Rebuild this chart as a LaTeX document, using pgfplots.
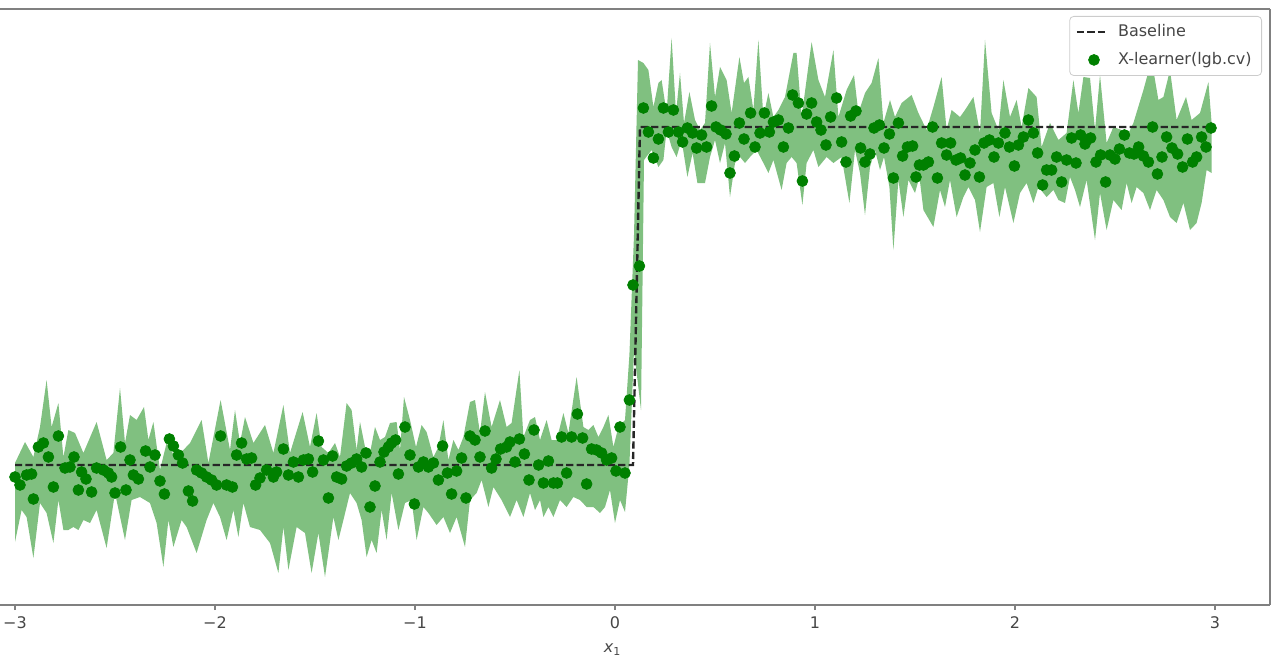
\documentclass[border=0pt]{standalone}
\usepackage{pgfplots}
\pgfplotsset{compat=1.18}
\usepackage{pgfplotstable}
\usepgfplotslibrary{fillbetween}
\usepackage{fontspec}
\setmainfont{DejaVu Sans}
\definecolor{dotgreen}{RGB}{0,128,0}
\definecolor{bandgreen}{RGB}{128,192,128}
\definecolor{spine}{RGB}{128,128,128}
\definecolor{ticktext}{RGB}{70,70,70}
\pgfplotsset{shortline/.style={legend image code/.code={\draw[##1] (0pt,0pt) -- (15pt,0pt);}}}
\begin{document}
\pgfplotstableread{
x y
-3.000 142
-2.950 163
-2.908 148
-2.875 178
-2.842 225
-2.817 178
-2.783 202
-2.758 148
-2.733 175
-2.700 172
-2.658 152
-2.592 183
-2.542 145
-2.508 152
-2.475 217
-2.450 162
-2.425 190
-2.392 185
-2.355 198
-2.333 165
-2.308 183
-2.275 135
-2.242 162
-2.200 148
-2.158 155
-2.125 162
-2.067 185
-2.033 142
-1.972 205
-1.925 155
-1.900 195
-1.875 162
-1.850 188
-1.808 162
-1.750 180
-1.708 152
-1.658 200
-1.625 152
-1.562 193
-1.525 158
-1.492 192
-1.467 158
-1.433 152
-1.400 162
-1.375 148
-1.342 202
-1.317 195
-1.292 155
-1.275 183
-1.250 158
-1.225 152
-1.200 178
-1.175 165
-1.150 168
-1.125 182
-1.092 183
-1.075 155
-1.055 208
-1.025 185
-0.995 158
-0.967 180
-0.942 173
-0.908 148
-0.883 158
-0.858 185
-0.833 145
-0.808 165
-0.783 155
-0.758 168
-0.725 203
-0.700 205
-0.675 172
-0.650 213
-0.617 178
-0.575 205
-0.542 178
-0.517 182
-0.478 235
-0.458 168
-0.425 185
-0.400 188
-0.375 165
-0.342 185
-0.317 165
-0.292 165
-0.258 192
-0.233 172
-0.192 228
-0.158 178
-0.133 175
-0.108 180
-0.083 168
-0.058 178
-0.033 190
-0.008 158
0.017 178
0.050 185
0.072 250
0.095 370
0.115 545
0.142 542
0.167 535
0.192 498
0.217 522
0.233 525
0.258 492
0.283 567
0.305 492
0.325 532
0.345 482
0.372 513
0.400 485
0.425 475
0.450 482
0.475 562
0.500 508
0.525 538
0.558 525
0.583 492
0.622 548
0.645 522
0.667 528
0.692 495
0.717 565
0.742 488
0.767 512
0.792 488
0.817 495
0.850 508
0.892 552
0.908 552
0.933 488
0.983 563
1.017 525
1.050 508
1.092 555
1.117 488
1.158 515
1.195 530
1.217 492
1.250 512
1.283 522
1.317 547
1.342 482
1.375 505
1.400 488
1.433 502
1.483 510
1.517 492
1.558 475
1.592 498
1.633 528
1.658 475
1.683 495
1.725 488
1.750 495
1.792 508
1.825 472
1.850 565
1.883 492
1.917 475
1.942 525
1.975 488
2.008 505
2.033 478
2.067 517
2.108 508
2.133 458
2.175 482
2.217 465
2.258 472
2.292 525
2.317 492
2.342 528
2.375 527
2.400 475
2.425 530
2.458 462
2.492 478
2.533 475
2.558 468
2.592 482
2.642 515
2.683 545
2.717 505
2.742 508
2.775 535
2.808 485
2.855 508
2.883 485
2.925 492
2.967 523
2.983 482
}\upperband
\pgfplotstableread{
x y
-3.000 63
-2.967 95
-2.942 88
-2.908 47
-2.875 102
-2.842 92
-2.808 62
-2.783 105
-2.758 75
-2.733 75
-2.708 78
-2.683 75
-2.658 85
-2.625 82
-2.592 95
-2.542 57
-2.500 112
-2.450 65
-2.417 105
-2.375 108
-2.325 102
-2.292 82
-2.258 38
-2.233 85
-2.208 58
-2.167 85
-2.142 78
-2.092 52
-2.042 85
-2.008 102
-1.975 88
-1.942 65
-1.908 95
-1.883 68
-1.858 102
-1.825 78
-1.775 75
-1.725 62
-1.683 32
-1.658 78
-1.633 35
-1.592 78
-1.550 72
-1.517 32
-1.483 72
-1.450 28
-1.408 88
-1.383 65
-1.358 85
-1.325 112
-1.292 102
-1.267 85
-1.242 48
-1.217 65
-1.192 52
-1.167 95
-1.142 65
-1.117 112
-1.083 75
-1.050 102
-1.017 105
-0.992 65
-0.958 98
-0.933 92
-0.892 80
-0.858 88
-0.825 72
-0.792 88
-0.750 58
-0.725 105
-0.692 112
-0.667 125
-0.633 98
-0.608 118
-0.567 105
-0.525 88
-0.492 105
-0.458 88
-0.425 112
-0.400 95
-0.375 105
-0.358 88
-0.333 98
-0.308 88
-0.275 105
-0.242 98
-0.208 108
-0.175 105
-0.142 98
-0.108 98
-0.075 92
-0.050 98
-0.025 115
0.000 82
0.025 105
0.050 93
0.072 140
0.095 255
0.130 195
0.145 445
0.183 455
0.217 438
0.242 445
0.258 475
0.283 458
0.308 448
0.333 465
0.362 428
0.388 452
0.412 422
0.450 422
0.475 448
0.500 465
0.525 442
0.550 462
0.575 408
0.600 442
0.625 448
0.650 442
0.675 448
0.708 455
0.742 442
0.767 432
0.792 445
0.833 415
0.858 442
0.883 448
0.908 442
0.937 400
0.958 442
0.992 455
1.017 438
1.058 448
1.092 442
1.133 448
1.172 402
1.200 455
1.225 432
1.250 390
1.275 438
1.300 455
1.325 435
1.345 448
1.372 418
1.392 355
1.417 425
1.442 388
1.467 425
1.500 412
1.522 428
1.542 395
1.592 378
1.625 415
1.650 398
1.675 425
1.708 388
1.742 408
1.767 418
1.800 405
1.825 373
1.858 418
1.892 422
1.922 388
1.950 418
1.992 382
2.025 412
2.058 422
2.092 402
2.117 418
2.158 408
2.192 415
2.217 405
2.250 402
2.275 428
2.300 415
2.325 398
2.358 425
2.400 365
2.425 412
2.458 375
2.492 405
2.533 395
2.558 422
2.583 402
2.608 418
2.642 412
2.675 395
2.708 415
2.742 405
2.775 388
2.808 382
2.842 402
2.875 375
2.908 382
2.933 402
2.958 435
2.983 432
}\lowerband
\pgfplotstableread{
x y
-3.000 128
-2.975 120
-2.942 130
-2.917 131
-2.908 106
-2.883 158
-2.858 162
-2.833 148
-2.808 118
-2.783 169
-2.750 137
-2.725 138
-2.705 148
-2.683 115
-2.667 133
-2.645 126
-2.617 113
-2.592 137
-2.558 135
-2.533 132
-2.517 128
-2.500 112
-2.472 158
-2.445 115
-2.425 145
-2.408 130
-2.383 126
-2.347 154
-2.325 138
-2.300 150
-2.275 124
-2.253 111
-2.228 166
-2.208 159
-2.183 150
-2.162 142
-2.133 114
-2.112 104
-2.092 135
-2.067 132
-2.042 128
-2.017 125
-1.992 120
-1.972 169
-1.942 120
-1.913 118
-1.892 150
-1.867 162
-1.842 146
-1.817 147
-1.797 120
-1.775 127
-1.742 135
-1.708 128
-1.692 133
-1.658 156
-1.633 130
-1.608 143
-1.583 128
-1.558 145
-1.533 146
-1.512 133
-1.483 164
-1.458 145
-1.433 107
-1.412 149
-1.392 128
-1.367 126
-1.342 139
-1.317 142
-1.292 146
-1.267 138
-1.245 152
-1.225 98
-1.200 119
-1.175 143
-1.155 153
-1.133 158
-1.117 162
-1.097 165
-1.083 131
-1.050 178
-1.025 150
-1.003 101
-0.983 138
-0.958 143
-0.933 138
-0.908 142
-0.883 125
-0.862 159
-0.838 132
-0.817 111
-0.792 134
-0.767 147
-0.745 107
-0.725 169
-0.700 165
-0.675 148
-0.650 174
-0.617 137
-0.595 146
-0.572 156
-0.542 158
-0.525 163
-0.500 143
-0.478 166
-0.453 151
-0.430 125
-0.405 175
-0.382 140
-0.358 122
-0.333 144
-0.308 122
-0.288 122
-0.267 168
-0.242 132
-0.217 168
-0.188 191
-0.162 167
-0.142 121
-0.117 156
-0.092 155
-0.067 152
-0.042 145
-0.017 147
0.005 134
0.025 178
0.050 132
0.072 205
0.090 320
0.122 339
0.142 497
0.167 473
0.192 447
0.217 466
0.242 497
0.267 473
0.292 495
0.317 473
0.338 463
0.362 477
0.388 472
0.408 457
0.433 470
0.458 458
0.483 499
0.505 478
0.528 475
0.555 471
0.575 432
0.597 449
0.622 482
0.645 466
0.678 492
0.700 458
0.725 472
0.747 492
0.772 473
0.792 483
0.817 485
0.842 458
0.867 477
0.888 510
0.917 502
0.937 424
0.958 491
0.983 502
1.008 483
1.030 475
1.055 460
1.078 488
1.108 507
1.133 463
1.155 443
1.178 489
1.205 494
1.228 457
1.250 443
1.275 451
1.295 477
1.322 480
1.345 457
1.372 471
1.392 427
1.417 482
1.438 449
1.462 458
1.488 459
1.505 428
1.522 440
1.542 440
1.567 443
1.588 478
1.612 427
1.633 462
1.658 450
1.678 462
1.705 445
1.728 447
1.750 430
1.775 442
1.800 455
1.822 428
1.845 462
1.872 465
1.895 448
1.917 462
1.950 472
1.972 458
1.997 439
2.017 460
2.042 468
2.067 485
2.092 472
2.113 452
2.138 420
2.158 435
2.183 435
2.208 448
2.233 423
2.258 445
2.283 467
2.305 442
2.328 470
2.350 461
2.378 467
2.405 443
2.428 450
2.453 423
2.475 450
2.500 446
2.522 456
2.547 470
2.572 452
2.595 451
2.618 458
2.642 449
2.667 443
2.688 478
2.712 431
2.735 448
2.758 468
2.785 457
2.813 451
2.838 438
2.862 466
2.888 443
2.908 448
2.933 468
2.955 458
2.980 477
}\dots
\pgfplotstableread{
x y
-3.000 140
0.090 140
0.125 478
2.980 478
}\baseline
\begin{tikzpicture}
\begin{axis}[
  scale only axis, width=635pt, height=298pt,
  xmin=-3.075, xmax=3.275, ymin=0, ymax=596,
  axis x line*=box, axis y line*=right,
  axis line style={spine, line width=1.1pt},
  ytick=\empty,
  xtick={-3,-2,-1,0,1,2,3},
  xticklabels={−3,−2,−1,0,1,2,3},
  xtick pos=left, tick align=outside, major tick length=2.5pt,
  xtick style={spine, line width=0.8pt},
  tick label style={font=\fontsize{8}{9.6}\selectfont, text=ticktext},
  every axis x label/.style={at={(axis description cs:0.482,0)}, anchor=center, yshift=-22.5pt, font=\fontsize{8}{9.6}\selectfont, text=ticktext},
  xlabel={\textit{x}\raisebox{-0.35ex}{\fontsize{5.5}{6}\selectfont 1}},
  legend style={at={(rel axis cs:1,1)}, anchor=north east, xshift=-4pt, yshift=-3.5pt,
    draw=black!20, rounded corners=2pt, fill=white,
    font=\fontsize{8}{9.6}\selectfont, text=ticktext,
    row sep=2.4pt, inner xsep=3pt, inner ysep=2pt},
  legend cell align=left,
  clip=false,
]
\addplot[name path=up, draw=none, forget plot] table {\upperband};
\addplot[name path=lo, draw=none, forget plot] table {\lowerband};
\addplot[fill=bandgreen, draw=none, forget plot] fill between[of=up and lo];
\addplot[black!85, line width=1.2pt, dash pattern=on 3.6pt off 1.6pt, shortline] table {\baseline};
\addlegendentry{\hspace{3pt}Baseline}
\addplot[only marks, mark=*, mark size=2.7pt, color=dotgreen, mark options={draw=dotgreen, fill=dotgreen}] table {\dots};
\addlegendentry{\hspace{3pt}X-learner(lgb.cv)}
\coordinate (bl) at (rel axis cs:0,0);
\coordinate (tr) at (rel axis cs:1,1);
\end{axis}
\path (bl) ++(0pt,-33pt) coordinate (A);
\path (tr) ++(5pt,4.5pt) coordinate (B);
\pgfresetboundingbox
\useasboundingbox (A) rectangle (B);
\end{tikzpicture}
\end{document}
